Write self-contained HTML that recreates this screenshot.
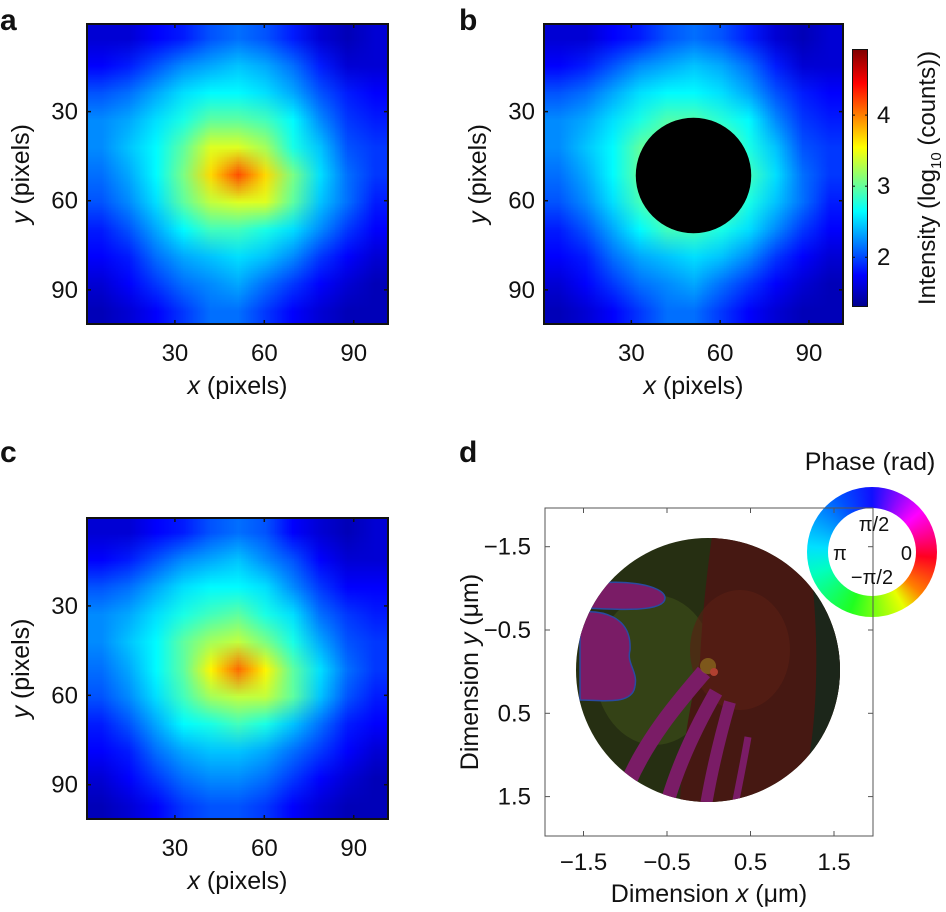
<!DOCTYPE html>
<html><head><meta charset="utf-8">
<style>
html,body{margin:0;padding:0;background:#fff;}
#root{position:relative;width:946px;height:912px;overflow:hidden;font-family:"Liberation Sans",sans-serif;}
canvas.hm{position:absolute;image-rendering:auto;}
svg{position:absolute;left:0;top:0;}
text{font-family:"Liberation Sans",sans-serif;fill:#111;}
</style></head>
<body>
<div id="root">
<canvas id="hmA" class="hm" width="11" height="11" style="left:87px;top:24px;width:301px;height:300px"></canvas>
<canvas id="hmB" class="hm" width="11" height="11" style="left:544px;top:24px;width:299px;height:300px"></canvas>
<canvas id="hmC" class="hm" width="11" height="11" style="left:87px;top:518px;width:301px;height:301px"></canvas>
<div style="position:absolute;left:852px;top:49px;width:16px;height:258px;background:linear-gradient(to top,#00008f 0%,#0000ff 12%,#00ffff 37%,#ffff00 62%,#ff0000 87%,#800000 100%);border:1px solid #111;box-sizing:border-box"></div>
<div style="position:absolute;left:807px;top:487px;width:130px;height:130px;border-radius:50%;background:conic-gradient(#1010ff 0deg,#ff00ff 50deg,#ff0020 95deg,#ff8000 130deg,#e8ff00 150deg,#20ff20 200deg,#00ffc0 250deg,#00e0ff 275deg,#0050ff 330deg,#1010ff 360deg)">
<div style="position:absolute;left:21px;top:21px;width:88px;height:88px;border-radius:50%;background:#fff"></div></div>
<svg id="svg" width="946" height="912"></svg>
</div>
<script>
// Panel a/c/b coarse log-intensity grids (rows top→bottom, cols left→right), log10 counts
const gridA = [
[1.6,1.6,1.75,1.85,2.05,2.15,2.05,1.85,1.6,1.5,1.6],
[1.75,1.85,2.05,2.25,2.35,2.45,2.35,2.15,1.85,1.6,1.6],
[2.05,2.15,2.35,2.55,2.65,2.65,2.55,2.35,2.05,1.85,1.75],
[2.25,2.35,2.55,2.75,3.0,3.0,2.9,2.65,2.25,1.95,1.85],
[2.25,2.45,2.65,3.0,3.45,3.45,3.25,2.75,2.45,2.05,1.95],
[2.15,2.35,2.65,3.1,3.7,4.2,3.7,3.1,2.55,2.15,1.95],
[2.05,2.25,2.55,3.0,3.35,3.45,3.45,3.0,2.45,2.15,1.85],
[1.85,2.05,2.35,2.65,2.9,2.9,2.75,2.55,2.25,1.95,1.75],
[1.75,1.85,2.15,2.35,2.45,2.55,2.45,2.25,1.95,1.75,1.6],
[1.6,1.75,1.95,2.15,2.25,2.35,2.15,1.95,1.75,1.6,1.5],
[1.5,1.6,1.75,1.95,2.15,2.15,1.95,1.75,1.6,1.5,1.5]];
const gridC = [
[1.6,1.6,1.75,1.85,2.05,2.15,2.05,1.75,1.6,1.5,1.6],
[1.75,1.85,2.05,2.25,2.35,2.45,2.25,2.05,1.75,1.6,1.6],
[2.05,2.15,2.35,2.55,2.65,2.65,2.55,2.25,1.95,1.75,1.75],
[2.25,2.35,2.55,2.75,2.9,3.0,2.75,2.55,2.15,1.95,1.85],
[2.25,2.45,2.65,3.0,3.25,3.35,3.1,2.75,2.35,2.05,1.95],
[2.15,2.35,2.65,3.0,3.6,4.1,3.6,3.0,2.55,2.15,1.95],
[2.05,2.25,2.55,2.9,3.25,3.35,3.35,3.0,2.45,2.05,1.85],
[1.85,2.05,2.35,2.65,2.75,2.9,2.75,2.45,2.15,1.85,1.75],
[1.75,1.85,2.15,2.35,2.45,2.45,2.35,2.15,1.95,1.75,1.6],
[1.6,1.75,1.95,2.15,2.25,2.25,2.15,1.95,1.75,1.6,1.5],
[1.5,1.6,1.75,1.95,2.05,2.05,1.95,1.75,1.6,1.5,1.5]];
const gridB = [
[1.6,1.6,1.75,1.85,2.05,2.15,2.05,1.85,1.6,1.5,1.6],
[1.75,1.85,2.05,2.25,2.35,2.45,2.35,2.15,1.85,1.6,1.6],
[2.05,2.15,2.35,2.55,2.65,2.65,2.55,2.35,2.05,1.85,1.75],
[2.25,2.35,2.55,2.75,2.95,2.95,2.8,2.65,2.25,1.95,1.85],
[2.25,2.45,2.65,3.0,3.1,3.1,3.1,2.75,2.45,2.05,1.95],
[2.15,2.35,2.65,3.0,3.1,3.1,3.1,2.9,2.55,2.15,1.95],
[2.05,2.25,2.55,2.9,3.1,3.1,3.1,2.75,2.45,2.15,1.85],
[1.85,2.05,2.35,2.65,2.9,2.9,2.75,2.55,2.25,1.95,1.75],
[1.75,1.85,2.15,2.35,2.45,2.55,2.45,2.25,1.95,1.75,1.6],
[1.6,1.75,1.95,2.15,2.25,2.35,2.15,1.95,1.75,1.6,1.5],
[1.5,1.6,1.75,1.95,2.15,2.15,1.95,1.75,1.6,1.5,1.5]];
const pixTicks = [30,60,90];
const cbTicks = [2,3,4];
const dTicks = [-1.5,-0.5,0.5,1.5];
const dTickLabels = ["\u22121.5","\u22120.5","0.5","1.5"];
const cMin = 1.3, cMax = 4.93;

function jet(v){
  let t=(v-cMin)/(cMax-cMin); t=Math.max(0,Math.min(1,t));
  const f=x=>Math.max(0,Math.min(1,x));
  const r=f(1.5-Math.abs(4*t-3)), g=f(1.5-Math.abs(4*t-2)), b=f(1.5-Math.abs(4*t-1));
  return [r*255,g*255,b*255];
}
function paint(id,grid){
  const cv=document.getElementById(id), ctx=cv.getContext('2d');
  const n=grid.length, img=ctx.createImageData(n,n);
  for(let i=0;i<n;i++)for(let j=0;j<n;j++){
    const c=jet(grid[i][j]), k=(i*n+j)*4;
    img.data[k]=c[0];img.data[k+1]=c[1];img.data[k+2]=c[2];img.data[k+3]=255;
  }
  ctx.putImageData(img,0,0);
}
paint('hmA',gridA);paint('hmB',gridB);paint('hmC',gridC);

const NS="http://www.w3.org/2000/svg", svg=document.getElementById('svg');
function el(tag,attrs,parent,txt){const e=document.createElementNS(NS,tag);for(const k in attrs)e.setAttribute(k,attrs[k]);if(txt!==undefined)e.textContent=txt;(parent||svg).appendChild(e);return e;}

function pixelPanel(name,x0,y0,w,h,letter,lx,ly,mask){
  const sx=v=>x0+(v-0.5)*w/101, sy=v=>y0+(v-0.5)*h/101;
  const g=el('g',{});
  
  
  if(mask){
    const c=el('circle',{cx:sx(mask[0]),cy:sy(mask[1]),r:mask[2]*w/101,fill:'#000'},g);
    
    
  }
  const fr=el('rect',{x:x0,y:y0,width:w,height:h,fill:'none',stroke:'#111','stroke-width':2},g);
  
  
  pixTicks.forEach(t=>{
    el('line',{x1:sx(t),x2:sx(t),y1:y0+h,y2:y0+h-4,stroke:'#111','stroke-width':1.5},g);
    el('line',{x1:sx(t),x2:sx(t),y1:y0,y2:y0+4,stroke:'#111','stroke-width':1.5},g);
    el('line',{x1:x0,x2:x0+4,y1:sy(t),y2:sy(t),stroke:'#111','stroke-width':1.5},g);
    el('line',{x1:x0+w,x2:x0+w-4,y1:sy(t),y2:sy(t),stroke:'#111','stroke-width':1.5},g);
    const xl=el('text',{x:sx(t),y:y0+h+37,'font-size':24,'text-anchor':'middle'},g,String(t));
    
    
    const yl=el('text',{x:x0-9,y:sy(t)+8,'font-size':24,'text-anchor':'end'},g,String(t));
    
    
  });
  const xt=el('text',{x:x0+w/2,y:y0+h+70,'font-size':25,'text-anchor':'middle'},g);
  
  
  el('tspan',{'font-style':'italic'},xt,'x');el('tspan',{},xt,' (pixels)');
  const yt=el('text',{x:0,y:0,'font-size':25,'text-anchor':'middle',transform:`translate(${x0-58},${y0+h/2}) rotate(-90)`},g);
  
  
  el('tspan',{'font-style':'italic'},yt,'y');el('tspan',{},yt,' (pixels)');
  const L=el('text',{x:lx,y:ly,'font-size':30,'font-weight':'bold'},g,letter);
  
  
}
pixelPanel('panel-a',87,24,301,300,'a',0,30);
pixelPanel('panel-b',544,24,299,300,'b',459,30,[51,51.5,19.5]);
pixelPanel('panel-c',87,518,301,301,'c',0,462);

// colorbar
const cbY=v=>307-(v-cMin)/(cMax-cMin)*258;
cbTicks.forEach(t=>{
  el('line',{x1:852,x2:855,y1:cbY(t),y2:cbY(t),stroke:'#111'});
  el('line',{x1:865,x2:868,y1:cbY(t),y2:cbY(t),stroke:'#111'});
  const tl=el('text',{x:877,y:cbY(t)+8,'font-size':24},svg,String(t));
  
  
});
const cbt=el('text',{x:0,y:0,'font-size':24,'text-anchor':'middle',transform:'translate(935,178) rotate(-90)'});


el('tspan',{},cbt,'Intensity (log');el('tspan',{'font-size':15,dy:6},cbt,'10');el('tspan',{dy:-6},cbt,' (counts))');

// panel d
const dx=v=>667+(v+0.5)*83.5, dy=v=>630+(v+0.5)*83.3;
const gd=el('g',{});


const defs=el('defs',{},gd);
const cp=el('clipPath',{id:'circ'},defs);el('circle',{cx:708,cy:670,r:132},cp);
const gc=el('g',{'clip-path':'url(#circ)'},gd);


el('rect',{x:570,y:530,width:280,height:280,fill:'#262f12'},gc);
el('ellipse',{cx:655,cy:670,rx:60,ry:75,fill:'#3a4a18',opacity:0.7},gc);
el('path',{d:'M712,536 C706,580 702,620 700,660 C692,700 682,740 680,805 L790,805 L830,740 L845,670 L830,600 L780,545 Z',fill:'#461812'},gc);
el('ellipse',{cx:740,cy:650,rx:50,ry:60,fill:'#5a2014',opacity:0.6},gc);
el('path',{d:'M810,560 L850,600 L850,760 L805,780 C818,720 820,640 810,560 Z',fill:'#1c261a'},gc);
el('path',{d:'M588,585 C620,578 665,585 665,598 C665,612 620,610 588,608 Z',fill:'#7a1c66',stroke:'#2a4aa0','stroke-width':1.5},gc);
el('path',{d:'M580,612 C600,610 632,615 630,650 C626,665 640,672 634,690 C628,705 600,700 580,700 Z',fill:'#7a1c66',stroke:'#2a4aa0','stroke-width':1.5},gc);
[['M625,790 C645,740 680,700 704,672',16],['M668,800 C680,760 700,720 716,692',14],['M706,805 C712,770 722,730 730,702',12],['M736,800 C740,780 744,760 748,737',7]].forEach(s=>{
  el('path',{d:s[0],stroke:'#7a1c66','stroke-width':s[1],fill:'none'},gc);
});
el('circle',{cx:708,cy:666,r:8,fill:'#907020',opacity:0.7},gc);
el('circle',{cx:714,cy:672,r:4,fill:'#b04030'},gc);
el('rect',{x:545,y:508,width:328,height:328,fill:'none',stroke:'#555','stroke-width':1},gd);
dTicks.forEach((t,i)=>{
  el('line',{x1:dx(t),x2:dx(t),y1:836,y2:831,stroke:'#555'},gd);
  el('line',{x1:dx(t),x2:dx(t),y1:508,y2:513,stroke:'#555'},gd);
  el('line',{x1:545,x2:550,y1:dy(t),y2:dy(t),stroke:'#555'},gd);
  el('line',{x1:873,x2:868,y1:dy(t),y2:dy(t),stroke:'#555'},gd);
  const xl=el('text',{x:dx(t),y:870,'font-size':24,'text-anchor':'middle'},gd,dTickLabels[i]);
  
  
  const yl=el('text',{x:531,y:dy(t)+8,'font-size':24,'text-anchor':'end'},gd,dTickLabels[i]);
  
  
});
const dxt=el('text',{x:709,y:902,'font-size':25,'text-anchor':'middle'},gd);


el('tspan',{},dxt,'Dimension ');el('tspan',{'font-style':'italic'},dxt,'x');el('tspan',{},dxt,' (\u03bcm)');
const dyt=el('text',{x:0,y:0,'font-size':25,'text-anchor':'middle',transform:'translate(478,672) rotate(-90)'},gd);


el('tspan',{},dyt,'Dimension ');el('tspan',{'font-style':'italic'},dyt,'y');el('tspan',{},dyt,' (\u03bcm)');
const dl=el('text',{x:459,y:462,'font-size':30,'font-weight':'bold'},gd,'d');


const pt=el('text',{x:870,y:470,'font-size':25,'text-anchor':'middle'},gd,'Phase (rad)');


[['\u03c0/2',874,531,'middle'],['\u03c0',833,560,'start'],['0',912,560,'end'],['\u2212\u03c0/2',872,584,'middle']].forEach(a=>{
  const t=el('text',{x:a[1],y:a[2],'font-size':20,'text-anchor':a[3]},gd,a[0]);
  
  
});
</script>
</body></html>
